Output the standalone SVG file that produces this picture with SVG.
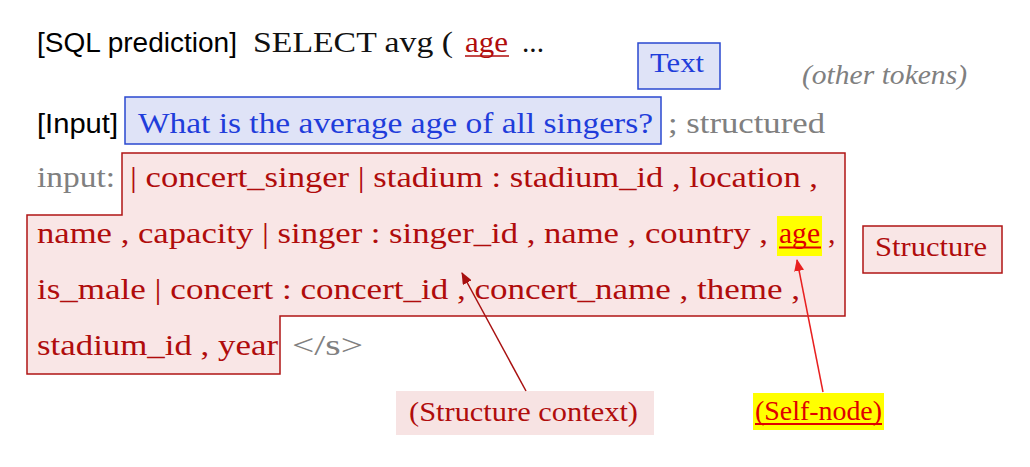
<svg xmlns="http://www.w3.org/2000/svg" width="1030" height="467" viewBox="0 0 1030 467">
<style>
.sans{font-family:"Liberation Sans",Arial,sans-serif;font-size:27px;fill:#000}
.ser{font-family:"Liberation Serif","Times New Roman",serif;font-size:30px}
.lbl{font-family:"Liberation Serif","Times New Roman",serif;font-size:27px}
.blk{fill:#111}
.red{fill:#b00c0c}
.bred{fill:#e00000}
.blue{fill:#1f3ddb}
.gray{fill:#808080}
.ul{text-decoration:underline}
</style>
<defs>
<marker id="ahd" markerUnits="userSpaceOnUse" markerWidth="12" markerHeight="10" refX="11" refY="5" orient="auto">
<path d="M0,0 L12,5 L0,10 Z" fill="#a81010"/>
</marker>
<marker id="ahr" markerUnits="userSpaceOnUse" markerWidth="12" markerHeight="10" refX="11" refY="5" orient="auto">
<path d="M0,0 L12,5 L0,10 Z" fill="#e82020"/>
</marker>
</defs>
<rect width="1030" height="467" fill="#fff"/>

<g id="sql-prediction">
<text class="sans" x="37" y="52" textLength="200" lengthAdjust="spacingAndGlyphs">[SQL prediction]</text>
<text class="ser blk" x="253" y="52" textLength="200" lengthAdjust="spacingAndGlyphs">SELECT avg (</text>
<text class="ser red" x="465" y="52" textLength="43" lengthAdjust="spacingAndGlyphs">age</text>
<line x1="465" y1="56" x2="509" y2="56" stroke="#b00c0c" stroke-width="1.6"/>
<text class="ser blk" x="522" y="52" textLength="22" lengthAdjust="spacingAndGlyphs">...</text>
</g>

<g id="text-label">
<rect x="638" y="43" width="82" height="46" fill="#dfe3f7" stroke="#2a48d0" stroke-width="1.5"/>
<text class="lbl blue" x="650" y="72" textLength="54" lengthAdjust="spacingAndGlyphs">Text</text>
</g>

<g id="other-tokens">
<text class="lbl gray" x="802" y="84" font-style="italic" textLength="165" lengthAdjust="spacingAndGlyphs">(other tokens)</text>
</g>

<g id="input-question">
<text class="sans" x="37" y="133" textLength="81" lengthAdjust="spacingAndGlyphs">[Input]</text>
<rect x="125" y="97" width="536" height="47" fill="#dfe3f7" stroke="#2a48d0" stroke-width="1.5"/>
<text class="ser blue" x="138" y="133" textLength="515" lengthAdjust="spacingAndGlyphs">What is the average age of all singers?</text>
<text class="ser gray" x="668" y="133" textLength="157" lengthAdjust="spacingAndGlyphs">; structured</text>
</g>

<g id="structured-input">
<text class="ser gray" x="37" y="187" textLength="78" lengthAdjust="spacingAndGlyphs">input:</text>
<path d="M122,153 H845 V316 H280 V374 H27 V215 H122 Z" fill="#f9e6e6" stroke="#b01515" stroke-width="1.5"/>
<rect x="777" y="216" width="45" height="40" fill="#ffff00"/>
<text class="ser red" x="130" y="187" textLength="688" lengthAdjust="spacingAndGlyphs">| concert_singer | stadium : stadium_id , location ,</text>
<text class="ser red" x="37" y="243" textLength="731" lengthAdjust="spacingAndGlyphs">name , capacity | singer : singer_id , name , country ,</text>
<text class="ser bred" x="779" y="243" textLength="41" lengthAdjust="spacingAndGlyphs">age</text>
<line x1="779" y1="247.5" x2="821" y2="247.5" stroke="#e00000" stroke-width="1.8"/>
<text class="ser red" x="828" y="243">,</text>
<text class="ser red" x="37" y="299" textLength="763" lengthAdjust="spacingAndGlyphs">is_male | concert : concert_id , concert_name , theme ,</text>
<text class="ser red" x="37" y="355" textLength="241" lengthAdjust="spacingAndGlyphs">stadium_id , year</text>
<text class="ser gray" x="292" y="355" textLength="71" lengthAdjust="spacingAndGlyphs">&lt;/s&gt;</text>
</g>

<g id="structure-label">
<rect x="863" y="226" width="139" height="47" fill="#f9e6e6" stroke="#b01515" stroke-width="1.5"/>
<text class="lbl red" x="875" y="256" textLength="112" lengthAdjust="spacingAndGlyphs">Structure</text>
</g>

<g id="structure-context">
<rect x="396" y="391" width="258" height="44" fill="#f7e3e3"/>
<text class="lbl red" x="409" y="421" textLength="229" lengthAdjust="spacingAndGlyphs">(Structure context)</text>
</g>

<g id="self-node">
<rect x="753" y="393" width="131" height="37" fill="#ffff00"/>
<text class="lbl bred" x="755" y="420" textLength="127" lengthAdjust="spacingAndGlyphs">(Self-node)</text>
<line x1="755" y1="424" x2="882" y2="424" stroke="#e00000" stroke-width="1.8"/>
</g>

<g id="connectors">
<line x1="526" y1="391" x2="462" y2="273" stroke="#a81010" stroke-width="1.5" marker-end="url(#ahd)"/>
<line x1="823" y1="392" x2="797" y2="260" stroke="#e82020" stroke-width="1.5" marker-end="url(#ahr)"/>
</g>
</svg>
